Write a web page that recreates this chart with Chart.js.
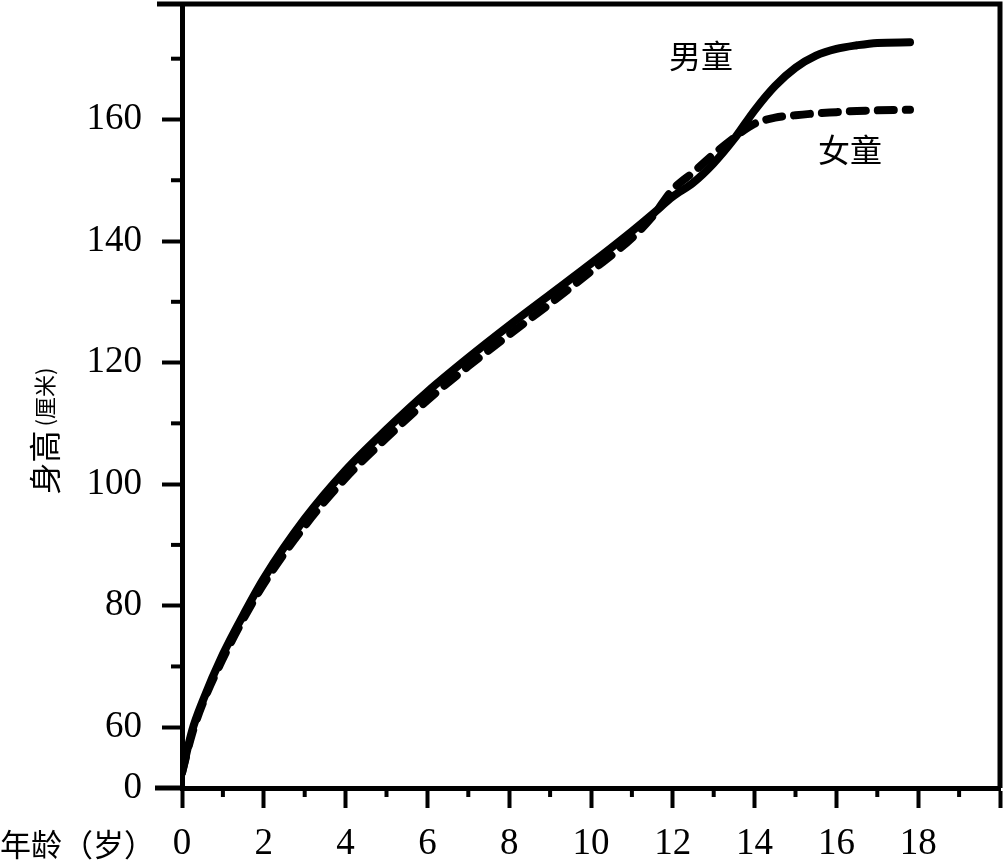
<!DOCTYPE html>
<html><head><meta charset="utf-8">
<script src="https://cdn.jsdelivr.net/npm/chart.js@4.4.1/dist/chart.umd.min.js"></script>
<style>html,body{margin:0;padding:0;background:#fff;}canvas{display:block;}</style>
</head><body>
<canvas id="c" width="1005" height="860" style="width:1005px;height:860px"></canvas>
<script>
// ---- data ----
const ages  = [0, 0.25, 0.5, 1, 1.5, 2, 3, 4, 5, 6, 7, 8, 9, 10, 11, 11.5, 12, 12.5, 13, 13.5, 14, 14.5, 15, 15.5, 16, 16.5, 17, 17.8];
const boys  = [52.5, 59.5, 64.2, 72, 78.5, 84.5, 94.3, 102.3, 109, 115.2, 120.8, 126.1, 131.2, 136.3, 141.6, 144.4, 147.3, 149.6, 152.8, 156.8, 161.5, 165.5, 168.5, 170.5, 171.6, 172.2, 172.6, 172.7];
const girls = [52.5, 59, 63.8, 71.3, 77.8, 83.6, 93.1, 101, 107.6, 113.8, 119.4, 124.6, 129.7, 135, 140.5, 144, 148.5, 151.3, 154.3, 157, 159.3, 160.3, 160.7, 161, 161.2, 161.4, 161.5, 161.6];
const seriesNames = ['男童', '女童'];
const xTickValues = [0,1,2,3,4,5,6,7,8,9,10,11,12,13,14,15,16,17,18,19,20];
const xTickLabels = ['0','','2','','4','','6','','8','','10','','12','','14','','16','','18','',''];
const yTickValues = [50,60,70,80,90,100,110,120,130,140,150,160,170,179];
const yTickLabels = ['0','60','','80','','100','','120','','140','','160','',''];
const yMajor = [60,80,100,120,140,160];
const xTitle = '年龄（岁）';
const yTitleMain = '身高';
const yTitleUnit = '(厘米)';

const serif = 'Liberation Serif';
const cjk = '"Noto Sans CJK SC"';

const toPts = (xs, ys) => xs.map((x, i) => ({x, y: ys[i]}));

const extras = {
  id: 'extras',
  afterDraw(chart) {
    const {ctx, chartArea: a, scales: {x, y}} = chart;
    ctx.save();
    ctx.strokeStyle = '#000';
    ctx.lineCap = 'butt';
    ctx.lineWidth = 4;
    yTickValues.forEach(v => {
      if (!yMajor.includes(v) && v !== 50 && v !== 179) {
        const p = y.getPixelForValue(v);
        ctx.beginPath(); ctx.moveTo(a.left - 11, p); ctx.lineTo(a.left, p); ctx.stroke();
      }
    });
    xTickValues.forEach(v => {
      if (v % 2 === 1) {
        const p = x.getPixelForValue(v);
        ctx.beginPath(); ctx.moveTo(p, a.bottom); ctx.lineTo(p, a.bottom + 9); ctx.stroke();
      }
    });
    ctx.lineWidth = 5;
    ctx.beginPath();
    ctx.moveTo(a.left - 25, a.top); ctx.lineTo(a.right, a.top); ctx.lineTo(a.right, a.bottom);
    ctx.stroke();
    ctx.beginPath();
    ctx.moveTo(a.left - 27, a.bottom); ctx.lineTo(a.left, a.bottom);
    ctx.stroke();
    ctx.fillStyle = '#000';
    ctx.textAlign = 'center';
    ctx.textBaseline = 'middle';
    ctx.font = '32px ' + cjk;
    ctx.fillText(seriesNames[0], x.getPixelForValue(12.69), y.getPixelForValue(170.4));
    ctx.fillText(seriesNames[1], x.getPixelForValue(16.33), y.getPixelForValue(155));
    ctx.textAlign = 'left';
    ctx.textBaseline = 'alphabetic';
    ctx.font = '31px ' + cjk;
    ctx.fillText(xTitle, 0, 856);
    ctx.translate(45, 431);
    ctx.rotate(-Math.PI / 2);
    ctx.textBaseline = 'middle';
    ctx.font = '32px ' + cjk;
    const w1 = ctx.measureText(yTitleMain).width;
    ctx.font = '22px ' + cjk;
    const w2 = ctx.measureText(yTitleUnit).width;
    let u = -(w1 + w2 + 4) / 2;
    ctx.font = '32px ' + cjk;
    ctx.fillText(yTitleMain, u, 0);
    ctx.font = '22px ' + cjk;
    ctx.fillText(yTitleUnit, u + w1 + 4, 0);
    ctx.restore();
  }
};

new Chart(document.getElementById('c'), {
  type: 'line',
  data: {
    datasets: [
      {label: seriesNames[0], data: toPts(ages, boys), borderColor: '#000', borderWidth: 8,
       borderCapStyle: 'round', borderJoinStyle: 'round', pointRadius: 0, cubicInterpolationMode: 'monotone', fill: false},
      {label: seriesNames[1], data: toPts(ages, girls), borderColor: '#000', borderWidth: 8,
       borderDash: [16, 12], borderCapStyle: 'round', borderJoinStyle: 'round', pointRadius: 0, cubicInterpolationMode: 'monotone', fill: false}
    ]
  },
  options: {
    responsive: false,
    animation: false,
    layout: {padding: {top: 4, right: 5, left: 0, bottom: 0}},
    plugins: {legend: {display: false}, tooltip: {enabled: false}},
    scales: {
      x: {
        type: 'linear', min: 0, max: 20,
        afterBuildTicks: s => { s.ticks = xTickValues.map(v => ({value: v})); },
        afterFit: s => { s.height = 72; s.paddingLeft = 0; s.paddingRight = 0; },
        ticks: {autoSkip: false, maxRotation: 0, minRotation: 0, padding: 14, color: '#000',
          font: {family: serif, size: 37},
          callback: (v) => { const i = xTickValues.indexOf(v); return i >= 0 ? xTickLabels[i] : ''; }},
        grid: {drawOnChartArea: false, drawTicks: true, tickLength: 20, tickWidth: 4,
          tickColor: c => (c.tick && c.tick.value % 2 === 0) ? '#000' : 'rgba(0,0,0,0)'},
        border: {display: true, color: '#000', width: 5}
      },
      y: {
        type: 'linear', min: 50, max: 179,
        afterBuildTicks: s => { s.ticks = yTickValues.map(v => ({value: v})); },
        afterFit: s => { s.width = 182; s.paddingTop = 0; s.paddingBottom = 0; },
        ticks: {autoSkip: false, padding: 20, color: '#000',
          font: {family: serif, size: 37},
          callback: (v) => { const i = yTickValues.indexOf(v); return i >= 0 ? yTickLabels[i] : ''; }},
        grid: {drawOnChartArea: false, drawTicks: true, tickLength: 20, tickWidth: 4,
          tickColor: c => (c.tick && yMajor.includes(c.tick.value)) ? '#000' : 'rgba(0,0,0,0)'},
        border: {display: true, color: '#000', width: 5}
      }
    }
  },
  plugins: [extras]
});
</script>
</body></html>
